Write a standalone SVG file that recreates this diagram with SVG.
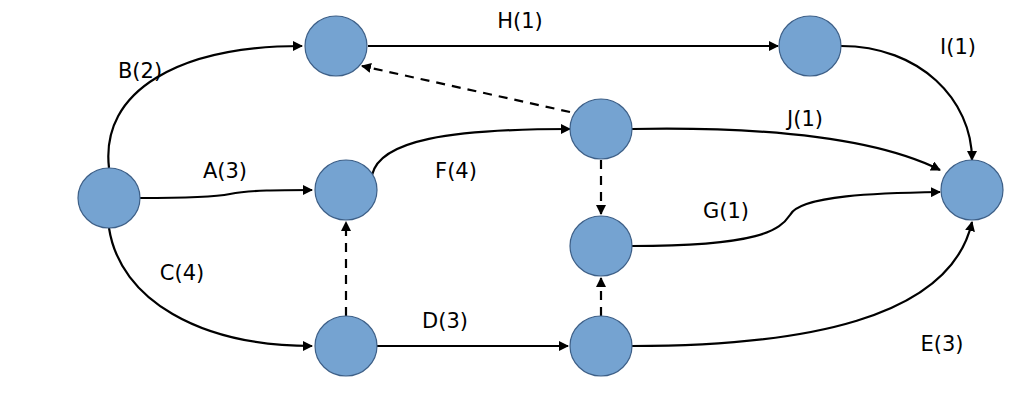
<svg xmlns="http://www.w3.org/2000/svg" width="1024" height="400" viewBox="0 0 1024 400">
<style>
.n{fill:#75a3d1;stroke:#3d5f87;stroke-width:1.2}
.e{fill:none;stroke:#000;stroke-width:2.2;marker-end:url(#a)}
.d{stroke-dasharray:9,7}
text{font-family:"DejaVu Sans",sans-serif;font-size:21px;fill:#000;text-anchor:middle}
</style>
<defs><marker id="a" markerWidth="10" markerHeight="10" refX="9" refY="5" orient="auto" markerUnits="userSpaceOnUse"><path d="M0,0 L10,5 L0,10 z" fill="#000"/></marker></defs>
<rect width="1024" height="400" fill="#fff"/>
<g id="edges">
<path class="e" d="M109,168 C100,90 180,46 302,46"/>
<path class="e" d="M140,198 C200,198 220,196 230,194 C250,190 280,190 312,190"/>
<path class="e" d="M109,228 C120,300 200,346 312,346"/>
<path class="e" d="M368,46 L778,46"/>
<path class="e" d="M841,46 C920,46 972,100 972,160"/>
<path class="e" d="M632,129 Q850,125 940,170"/>
<path class="e" d="M372,175 C380,140 450,129 570,129"/>
<path class="e d" d="M570,112 L362,66"/>
<path class="e d" d="M601,160 L601,214"/>
<path class="e" d="M632,246 C760,246 780,230 790,215 C800,195 880,193 940,192"/>
<path class="e d" d="M346,316 L346,222"/>
<path class="e" d="M377,346 L568,346"/>
<path class="e d" d="M601,316 L601,278"/>
<path class="e" d="M632,346 C800,346 950,320 972,222"/>
</g>
<g id="S"><ellipse class="n" cx="109" cy="198" rx="31" ry="30"/></g>
<g id="N1"><ellipse class="n" cx="336" cy="46" rx="31" ry="30"/></g>
<g id="N2"><ellipse class="n" cx="810" cy="46" rx="31" ry="30"/></g>
<g id="NA"><ellipse class="n" cx="346" cy="190" rx="31" ry="30"/></g>
<g id="NF"><ellipse class="n" cx="601" cy="129" rx="31" ry="30"/></g>
<g id="NG"><ellipse class="n" cx="601" cy="246" rx="31" ry="30"/></g>
<g id="ND1"><ellipse class="n" cx="346" cy="346" rx="31" ry="30"/></g>
<g id="ND2"><ellipse class="n" cx="601" cy="346" rx="31" ry="30"/></g>
<g id="End"><ellipse class="n" cx="972" cy="190" rx="31" ry="30"/></g>
<g id="labels">
<text x="140" y="78">B(2)</text>
<text x="225" y="178">A(3)</text>
<text x="182" y="280">C(4)</text>
<text x="520" y="28">H(1)</text>
<text x="958" y="54">I(1)</text>
<text x="805" y="126">J(1)</text>
<text x="456" y="178">F(4)</text>
<text x="726" y="218">G(1)</text>
<text x="445" y="328">D(3)</text>
<text x="942" y="351">E(3)</text>
</g>
</svg>
